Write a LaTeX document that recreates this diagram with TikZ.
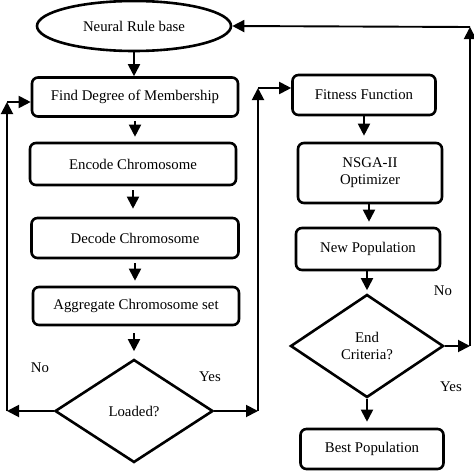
\documentclass[tikz,border=0pt]{standalone}
\usepackage{fontspec}
\setmainfont{Liberation Serif}
\usetikzlibrary{shapes.geometric,arrows.meta}
\begin{document}
\begin{tikzpicture}[
        x=1pt, y=-1pt,
        font=\fontsize{14.8}{17}\selectfont,
        % rounded process boxes
        procbox/.style={draw, rounded corners=6pt, line width=2.6pt, inner sep=0pt, align=center},
        startnode/.style={ellipse, draw, line width=2.6pt, minimum width=194pt, minimum height=50pt, inner sep=0pt},
        decision/.style={diamond, draw, line width=2.6pt, inner sep=0pt, align=center},
        arr/.style={-{Triangle[length=12pt,width=12pt]}, line width=1.9pt},
        endgap/.style={shorten >=#1}
    ]
    \useasboundingbox (0,0) rectangle (474,471);

    % left column
    \node[startnode] (rulebase) at (134,26) {Neural Rule base};
    \node[procbox, minimum width=206pt, minimum height=39pt] (degree) at (135,97) {Find Degree of Membership};
    \node[procbox, minimum width=206pt, minimum height=42pt] (encode) at (133,164) {Encode Chromosome};
    \node[procbox, minimum width=207pt, minimum height=40pt] (decode) at (135,238) {Decode Chromosome};
    \node[procbox, minimum width=206pt, minimum height=38pt] (aggregate) at (136,306) {Aggregate Chromosome set};
    \node[decision, minimum width=158pt, minimum height=103pt] (loaded) at (134,411) {Loaded?};

    % right column
    \node[procbox, minimum width=143pt, minimum height=40pt] (fitness) at (364,95) {Fitness Function};
    \node[procbox, minimum width=144pt, minimum height=60pt] (nsga) at (370,173) {NSGA-II\\Optimizer};
    \node[procbox, minimum width=144pt, minimum height=42pt] (newpop) at (368,249) {New Population};
    \node[decision, minimum width=153pt, minimum height=103pt] (endcrit) at (367,346) {End\\Criteria?};
    \node[procbox, minimum width=143pt, minimum height=40pt] (bestpop) at (372,449) {Best Population};

    % loop corners
    \coordinate (noleft) at (7,411);
    \coordinate (noup) at (7,102);
    \coordinate (yesright) at (258,411);
    \coordinate (yesup) at (258,88);
    \coordinate (endright) at (470,346);
    \coordinate (endup) at (470,27);

    \draw[arr] (rulebase.south) -- (rulebase.south |- degree.north);
    \draw[arr, shorten <=3pt, endgap=5pt] (degree.south) -- (degree.south |- encode.north);
    \draw[arr, shorten <=4pt, endgap=8pt] (encode.south) -- (encode.south |- decode.north);
    \draw[arr, shorten <=4pt, endgap=5pt] (decode.south) -- (decode.south |- aggregate.north);
    \draw[arr, shorten <=7pt, endgap=7pt] (aggregate.south -| loaded.north) -- (loaded.north);

    \draw[arr] (loaded.west) -- (noleft);
    \draw[arr] (noleft) -- (noup);
    \draw[arr] (noup) -- (noup -| degree.west);
    \draw[arr] (loaded.east) -- (yesright);
    \draw[arr] (yesright) -- (yesup);
    \draw[arr] (yesup) -- (yesup -| fitness.west);

    \draw[arr, endgap=6pt] (fitness.south -| 364,0) -- (364,0 |- nsga.north);
    \draw[arr, endgap=5pt] (nsga.south -| 369,0) -- (369,0 |- newpop.north);
    \draw[arr, endgap=3pt] (newpop.south -| endcrit.north) -- (endcrit.north);
    \draw[arr, endgap=6pt] (endcrit.south) -- (endcrit.south |- bestpop.north);

    \draw[arr] (endcrit.east) -- (endright);
    \draw[arr] (endright) -- (endup);
    \draw[arr] (endup) -- (rulebase.east);

    \node (noa) at (40,368) {No};
    \node (yesa) at (210,377) {Yes};
    \node (nob) at (443,291) {No};
    \node (yesb) at (451,387) {Yes};
\end{tikzpicture}
\end{document}
